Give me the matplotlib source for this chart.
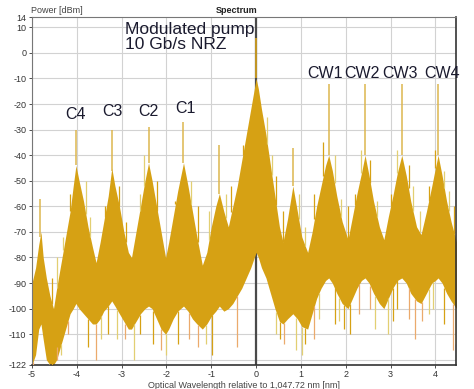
import numpy as np
import matplotlib
matplotlib.use("Agg")
import matplotlib.pyplot as plt

plt.rcParams['font.family'] = ['Liberation Sans', 'DejaVu Sans']
plt.rcParams['axes.unicode_minus'] = False

# envelope of the dense spectrum (nm, dBm)
env_x = [-5.00, -4.92, -4.85, -4.80, -4.75, -4.68, -4.60, -4.52, -4.45, -4.35,
         -4.25, -4.15, -4.08, -4.02, -3.95, -3.85, -3.75, -3.65, -3.57, -3.48,
         -3.40, -3.30, -3.22, -3.15, -3.05, -2.95, -2.85, -2.78, -2.68, -2.58,
         -2.48, -2.40, -2.32, -2.22, -2.12, -2.02, -1.95, -1.85, -1.75, -1.62,
         -1.52, -1.42, -1.32, -1.20, -1.10, -1.00, -0.90, -0.82, -0.72, -0.62,
         -0.52, -0.42, -0.32, -0.22, -0.12, -0.04, 0.00, 0.05, 0.12, 0.22,
         0.32, 0.42, 0.52, 0.60, 0.70, 0.82, 0.92, 1.02, 1.15, 1.25,
         1.35, 1.45, 1.55, 1.62, 1.70, 1.80, 1.92, 2.05, 2.15, 2.25,
         2.35, 2.43, 2.52, 2.62, 2.75, 2.85, 2.95, 3.05, 3.15, 3.25,
         3.35, 3.45, 3.58, 3.68, 3.80, 3.92, 4.00, 4.06, 4.15, 4.25,
         4.35, 4.47]
env_hi = [-90, -84, -75, -70, -80, -88, -95, -100, -92, -82,
          -72, -62, -52, -44, -50, -58, -68, -76, -82, -74,
          -66, -56, -45, -52, -60, -70, -78, -80, -70, -60,
          -50, -43, -50, -60, -70, -80, -74, -64, -54, -43,
          -52, -62, -72, -83, -78, -68, -60, -55, -62, -68,
          -60, -52, -42, -32, -22, -14, -10, -14, -22, -32,
          -44, -56, -68, -74, -65, -52, -62, -72, -78, -70,
          -60, -52, -44, -40, -46, -56, -66, -73, -64, -55,
          -47, -40, -48, -58, -68, -73, -64, -56, -47, -40,
          -48, -58, -68, -71, -62, -52, -45, -40, -48, -58,
          -66, -74]
env_lo = [-122, -118, -108, -106, -112, -120, -122, -122, -120, -114,
          -108, -102, -100, -98, -100, -102, -104, -106, -106, -104,
          -101, -99, -97, -99, -102, -105, -108, -108, -105, -102,
          -100, -99, -100, -104, -108, -110, -108, -104, -101, -99,
          -101, -104, -106, -108, -106, -103, -101, -99, -101, -100,
          -98, -95, -92, -88, -84, -80, -78, -80, -84, -88,
          -94, -100, -105, -106, -104, -102, -104, -107, -108, -102,
          -96, -92, -89, -88, -90, -94, -98, -100, -96, -92,
          -89, -88, -90, -94, -98, -100, -96, -92, -89, -88,
          -90, -94, -97, -98, -94, -90, -89, -88, -90, -94,
          -97, -100]

# narrow tones rising above the envelope
tone_x = [-4.82, -4.02, -3.21, -2.40, -1.62, -0.82, 0.82, 1.62, 2.43, 3.25, 4.06]
tone_top = [-57, -30, -30, -29, -27, -36, -37, -12, -12, -12, -12]
pump_x = [0.0]
pump_top = [6]

# small spikes above / below the envelope
up_x = [-4.30, -3.38, -2.60, -1.80, -1.05, -0.55, 0.35, 0.60, 1.10, 1.30,
        1.90, 2.20, 2.70, 3.00, 3.50, 3.85, 4.30, -4.55, -3.70, -2.90,
        -4.45, -4.15, -3.80, -3.05, -2.50, -2.20, -1.45, -1.30, -0.68, -0.30,
        0.25, 0.45, 0.95, 1.50, 1.75, 2.05, 2.35, 2.55, 3.15, 3.40,
        3.65, 4.00, 4.20, 4.42]
up_top = [-72, -60, -55, -58, -62, -52, -40, -62, -68, -55,
          -57, -55, -58, -55, -52, -52, -54, -88, -64, -66,
          -80, -55, -50, -52, -40, -50, -50, -60, -55, -36,
          -25, -48, -55, -35, -40, -60, -38, -42, -38, -44,
          -62, -38, -46, -60]
down_x = [-4.98, -4.62, -4.55, -4.45, -4.35, -3.75, -3.58, -3.45, -3.30, -2.92,
          -2.72, -2.60, -2.12, -2.02, -1.75, -1.30, -1.12, -0.98, -0.42, 0.45,
          0.53, 0.62, 1.02, 1.08, 1.30, 1.85, 2.10, 2.55, 2.95, 3.05,
          3.55, 3.85, 4.45, -4.20, -3.10, -2.30, -1.50, 0.90, 1.95, 3.70,
          1.40, 1.75, 2.30, 2.65, 3.15, 3.40, 3.95, 4.20, 4.40]
down_bot = [-122, -122, -120, -115, -118, -115, -120, -112, -110, -112,
            -120, -110, -116, -118, -114, -115, -114, -118, -115, -110,
            -112, -114, -118, -114, -112, -105, -110, -100, -110, -105,
            -112, -102, -114, -110, -112, -114, -112, -116, -108, -105,
            -104, -106, -102, -108, -100, -104, -100, -106, -116]

x_ticks = [-5, -4, -3, -2, -1, 0, 1, 2, 3, 4]
y_ticks = [14, 10, 0, -10, -20, -30, -40, -50, -60, -70, -80, -90, -100, -110, -122]
y_grid = list(range(10, -121, -10))

c4_labels = ['C4', 'C3', 'C2', 'C1']
c4_x = [-4.04, -3.21, -2.40, -1.58]
c4_y = [-27, -26, -26, -24.5]
cw_labels = ['CW1', 'CW2', 'CW3', 'CW4']
cw_x = [1.53, 2.36, 3.21, 4.15]

gold = '#D6A114'
pale = '#E2CF72'
peach = '#EBAA6C'

fig = plt.figure(figsize=(4.74, 3.89), dpi=100)
ax = fig.add_axes([0.0675, 0.062, 0.8955, 0.894])

for g in x_ticks:
    ax.axvline(g, color='#D2D2D2', lw=0.8, zorder=0)
for g in y_grid:
    ax.axhline(g, color='#D2D2D2', lw=0.8, zorder=0)
ax.axvline(0, color='#4A4A4A', lw=1.6, zorder=1)

ax.fill_between(env_x, env_lo, env_hi, color=gold, lw=0, zorder=2)

ax.vlines(tone_x, np.interp(tone_x, env_x, env_hi), tone_top,
          color='#DDB64E', lw=1.1, zorder=3)
ax.vlines(pump_x, np.interp(pump_x, env_x, env_hi), pump_top,
          color='#D8A51E', lw=1.2, zorder=3)
up_cols = [pale if i % 2 == 0 else gold for i in range(len(up_x))]
ax.vlines(up_x, np.interp(up_x, env_x, env_hi), up_top, colors=up_cols, lw=0.9, zorder=3)
down_cols = [peach if i % 3 == 0 else (pale if i % 3 == 1 else gold) for i in range(len(down_x))]
ax.vlines(down_x, down_bot, np.interp(down_x, env_x, env_lo), colors=down_cols,
          lw=0.9, zorder=3)

ax.set_xlim(-5, 4.47)
ax.set_ylim(-122, 14)
ax.set_xticks(x_ticks)
ax.set_xticklabels([str(v) for v in x_ticks])
ax.set_yticks(y_ticks)
ax.set_yticklabels([str(v) for v in y_ticks])
ax.tick_params(labelsize=6.5, colors='#333333', length=2, width=0.6, pad=2)
for s in ['bottom', 'right']:
    ax.spines[s].set_color('#333333')
    ax.spines[s].set_linewidth(1.2)
for s in ['top', 'left']:
    ax.spines[s].set_color('#777777')
    ax.spines[s].set_linewidth(0.8)

ax.set_xlabel('Optical Wavelength relative to 1,047.72 nm [nm]', fontsize=6.5,
              color='#444444', labelpad=1)
fig.text(0.065, 0.985, 'Power [dBm]', fontsize=6.5, color='#444444', va='top')
fig.text(0.50, 0.985, 'Spectrum', fontsize=6.5, color='#222222', va='top',
         ha='center', fontweight='bold')

ax.text(-2.93, 12.2, 'Modulated pump\n10 Gb/s NRZ', fontsize=12.5, color='#1A1A2E',
        va='top', ha='left', linespacing=1.0, zorder=5)
for lab, x, y in zip(c4_labels, c4_x, c4_y):
    ax.text(x, y, lab, fontsize=11.5, color='#1A1A2E', ha='center', va='bottom', zorder=5)
for lab, x in zip(cw_labels, cw_x):
    ax.text(x, -11, lab, fontsize=11.5, color='#1A1A2E', ha='center', va='bottom', zorder=5)

fig.savefig('out.png', dpi=100)
